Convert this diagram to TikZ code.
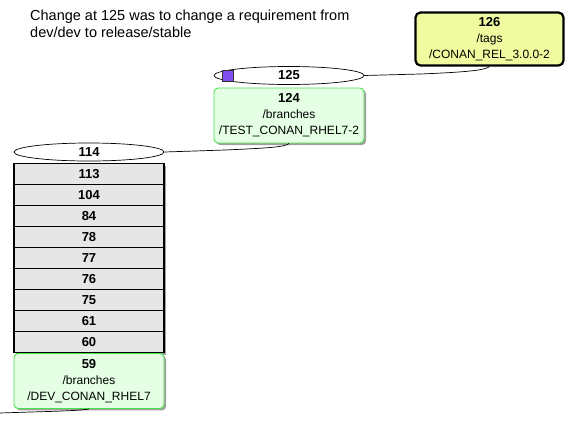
\documentclass[tikz,border=0pt]{standalone}
\usepackage{fontspec}
\setmainfont{Liberation Sans}
\usepackage{tikz}
\usetikzlibrary{positioning,shapes.geometric,shadows,calc}
\definecolor{revgreen}{HTML}{E4FFE4}
\definecolor{revedge}{HTML}{4CE24C}
\definecolor{tagyellow}{HTML}{EFFB9E}
\definecolor{stackgray}{HTML}{E6E6E6}
\definecolor{markpurple}{HTML}{7F4FF0}
\tikzset{
  revbox/.style={draw=revedge,fill=revgreen,rounded corners=4pt,minimum width=150pt,minimum height=55pt,
    inner sep=0pt,align=center,font=\fontsize{12}{16}\selectfont,line width=0.9pt,
    drop shadow={shadow xshift=2pt,shadow yshift=-2pt,fill=gray!75,opacity=1}},
  tagbox/.style={draw=black,fill=tagyellow,rounded corners=5pt,minimum width=148pt,minimum height=53pt,
    inner sep=0pt,align=center,font=\fontsize{12}{16}\selectfont,line width=2.2pt},
  stackbox/.style={draw=black,fill=stackgray,minimum width=150pt,minimum height=21pt,inner sep=0pt,
    font=\fontsize{13}{13}\bfseries\selectfont,line width=1.3pt,
    drop shadow={shadow xshift=2pt,shadow yshift=-2pt,fill=gray!75,opacity=1}},
  headell/.style={draw=black,fill=white,ellipse,minimum width=150pt,minimum height=18pt,inner sep=0pt,
    font=\fontsize{13}{13}\bfseries\selectfont,line width=0.7pt},
  link/.style={draw=black,line width=0.7pt}
}
\begin{document}
\begin{tikzpicture}[x=1pt,y=-1pt]
\useasboundingbox (0,0) rectangle (572,429);
% note at the top
\node[anchor=north west,align=left,inner sep=0pt,font=\fontsize{14.5}{17}\selectfont] (note) at (30,10)
  {Change at 125 was to change a requirement from\\dev/dev to release/stable};
% tag
\node[tagbox] (r126) at (489.5,39) {{\fontsize{13}{16}\bfseries 126}\\/tags\\/CONAN\_REL\_3.0.0-2};
% branch head
\node[headell] (r125) at (289,75.5) {125};
\node[draw=black!80,fill=markpurple,minimum size=11pt,inner sep=0pt] (mark) at (228,76) {};
\node[revbox] (r124) at (289,115.5) {{\fontsize{13}{16}\bfseries 124}\\/branches\\/TEST\_CONAN\_RHEL7-2};
% trunk stack
\node[headell] (r114) at (89,152) {114};
\coordinate (top) at (89,163);
\foreach \rev [count=\i] in {113,104,84,78,77,76,75,61,60}
  \node[stackbox,anchor=north] (s\i) at ($(top)+(0,{21*(\i-1)})$) {\rev};
\node[revbox,anchor=north] (r59) at (89,353) {{\fontsize{13}{16}\bfseries 59}\\/branches\\/DEV\_CONAN\_RHEL7};
% links
\draw[link] (r125.east) -- (420,74) .. controls (470,72) and (485,70) .. (r126.south);
\draw[link] (r114.east) -- (225,150) .. controls (270,148) and (285,147) .. (r124.south);
\coordinate (off) at (0,413);
\draw[link] (off) -- (30,412) .. controls (70,411) and (85,410) .. (r59.south);
\end{tikzpicture}
\end{document}
